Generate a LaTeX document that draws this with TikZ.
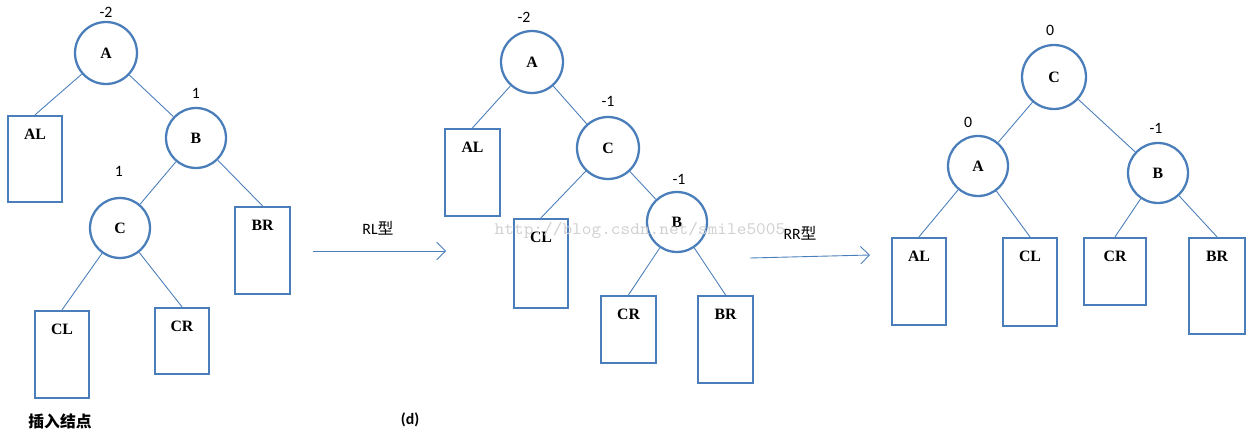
\documentclass[tikz,border=0pt]{standalone}
\usepackage{fontspec}
\setmainfont{Liberation Serif}
\newfontfamily\cjk{Noto Sans CJK SC}
\newfontfamily\numf{Carlito}
\usetikzlibrary{calc}
\definecolor{bl}{HTML}{4A7EBB}
\tikzset{
 circ/.style={circle,draw=bl,line width=1.3pt,fill=white,minimum size=#1*0.04cm,inner sep=0pt,font=\bfseries\small},
 box/.style={draw=bl,line width=1.3pt,fill=white,inner sep=0pt},
 edge/.style={draw=bl,line width=0.5pt},
 num/.style={font=\numf\small},
 lbl/.style={font=\bfseries\small},
 arr/.style={draw=bl,line width=0.5pt,-{Straight Barb[length=5pt]}}
}
\usetikzlibrary{arrows.meta}
\newcommand{\rbox}[6]{% name x1 x2 y1 y2 text
 \node[box,minimum width={(#3-#2)*0.02cm},minimum height={(#5-#4)*0.02cm}] (#1) at ({(#2+#3)/2},{(#4+#5)/2}) {};
 \node[lbl] (#1t) at ({(#2+#3)/2},{#4+18}) {#6};}
\begin{document}
\begin{tikzpicture}[x=0.02cm,y=-0.02cm]
\useasboundingbox (0,0) rectangle (1255,439);
% tree 1
\node[circ=31] (A1) at (106,53) {A};
\node[circ=30] (B1) at (196,138) {B};
\node[circ=30] (C1) at (120,228) {C};
\rbox{AL1}{8}{62}{116}{202}{AL}
\rbox{BR1}{235}{290}{207}{294}{BR}
\rbox{CL1}{35}{89}{311}{398}{CL}
\rbox{CR1}{155}{209}{308}{374}{CR}
\draw[edge] (A1) -- (AL1.north); \draw[edge] (A1) -- (B1);
\draw[edge] (B1) -- (C1); \draw[edge] (B1) -- (BR1.north);
\draw[edge] (C1) -- (CL1.north); \draw[edge] (C1) -- (CR1.north);
\node[num] (n1) at (106,12) {-2};
\node[num] (n2) at (196,93) {1};
\node[num] (n3) at (119,171) {1};
\node[font=\cjk\bfseries\small] (cap1) at (60,421) {插入结点};
% arrow 1
\coordinate (a1s) at (313,251); \coordinate (a1e) at (446,251);
\draw[arr] (a1s) -- (a1e);
\node[font=\numf\small] (rl) at (378,228) {RL\cjk 型};
% tree 2
\node[circ=31] (A2) at (532,62) {A};
\node[circ=31] (C2) at (608,148) {C};
\node[circ=30] (B2) at (677,222) {B};
\rbox{AL2}{445}{500}{129}{216}{AL}
\rbox{CL2}{514}{568}{219}{308}{CL}
\rbox{CR2}{601}{656}{296}{363}{CR}
\rbox{BR2}{698}{753}{296}{383}{BR}
\draw[edge] (A2) -- (AL2.north); \draw[edge] (A2) -- (C2);
\draw[edge] (C2) -- (CL2.north); \draw[edge] (C2) -- (B2);
\draw[edge] (B2) -- (CR2.north); \draw[edge] (B2) -- (BR2.north);
\node[num] (n4) at (524,17) {-2};
\node[num] (n5) at (608,101) {-1};
\node[num] (n6) at (679,179) {-1};
\node[font=\numf\bfseries\small] (d) at (410,420) {(d)};
\node[font=\ttfamily,text=black!18,xscale=1.05] (wm) at (640,230) {http://blog.csdn.net/smile5005};
% arrow 2
\coordinate (a2s) at (750,258); \coordinate (a2e) at (870,255);
\draw[arr] (a2s) -- (a2e);
\node[font=\numf\small] (rr) at (800,233) {RR\cjk 型};
% tree 3
\node[circ=32] (C3) at (1054,77) {C};
\node[circ=30] (A3) at (978,166) {A};
\node[circ=30] (B3) at (1158,173) {B};
\rbox{AL3}{892}{946}{238}{325}{AL}
\rbox{CL3}{1003}{1057}{238}{326}{CL}
\rbox{CR3}{1084}{1146}{238}{305}{CR}
\rbox{BR3}{1189}{1245}{238}{334}{BR}
\draw[edge] (C3) -- (A3); \draw[edge] (C3) -- (B3);
\draw[edge] (A3) -- (AL3.north); \draw[edge] (A3) -- (CL3.north);
\draw[edge] (B3) -- (CR3.north); \draw[edge] (B3) -- (BR3.north);
\node[num] (n7) at (1050,30) {0};
\node[num] (n8) at (968,122) {0};
\node[num] (n9) at (1156,128) {-1};
\end{tikzpicture}
\end{document}
